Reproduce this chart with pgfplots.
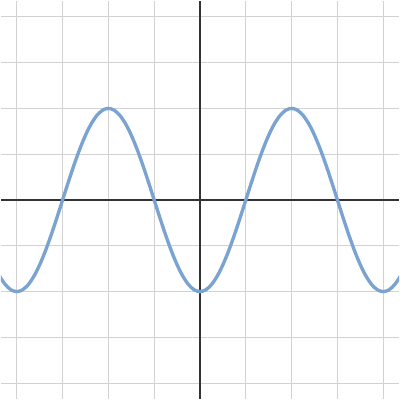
\documentclass[border=0pt]{standalone}
\usepackage{pgfplots}
\pgfplotsset{compat=1.18}
\definecolor{curveblue}{HTML}{7BA3D2}
\begin{document}
\begin{tikzpicture}
\begin{axis}[
    scale only axis,
    width=10cm, height=10cm,
    xmin=-4.348, xmax=4.348,
    ymin=-4.348, ymax=4.348,
    axis lines=middle,
    axis line style={-, black!80, line width=1.2pt},
    xtick={-4,...,4}, ytick={-4,...,4},
    xticklabels={}, yticklabels={},
    major tick length=0pt,
    grid=major,
    grid style={gray!35, line width=0.9pt},
]
\addplot[curveblue, line width=2.4pt, smooth]
    table {
x y
-4.5 -1.4142
-4.375 -1.6629
-4.25 -1.8478
-4.125 -1.9616
-4 -2
-3.875 -1.9616
-3.75 -1.8478
-3.625 -1.6629
-3.5 -1.4142
-3.375 -1.1111
-3.25 -0.7654
-3.125 -0.3902
-3 0
-2.875 0.3902
-2.75 0.7654
-2.625 1.1111
-2.5 1.4142
-2.375 1.6629
-2.25 1.8478
-2.125 1.9616
-2 2
-1.875 1.9616
-1.75 1.8478
-1.625 1.6629
-1.5 1.4142
-1.375 1.1111
-1.25 0.7654
-1.125 0.3902
-1 0
-0.875 -0.3902
-0.75 -0.7654
-0.625 -1.1111
-0.5 -1.4142
-0.375 -1.6629
-0.25 -1.8478
-0.125 -1.9616
0 -2
0.125 -1.9616
0.25 -1.8478
0.375 -1.6629
0.5 -1.4142
0.625 -1.1111
0.75 -0.7654
0.875 -0.3902
1 0
1.125 0.3902
1.25 0.7654
1.375 1.1111
1.5 1.4142
1.625 1.6629
1.75 1.8478
1.875 1.9616
2 2
2.125 1.9616
2.25 1.8478
2.375 1.6629
2.5 1.4142
2.625 1.1111
2.75 0.7654
2.875 0.3902
3 0
3.125 -0.3902
3.25 -0.7654
3.375 -1.1111
3.5 -1.4142
3.625 -1.6629
3.75 -1.8478
3.875 -1.9616
4 -2
4.125 -1.9616
4.25 -1.8478
4.375 -1.6629
4.5 -1.4142
};
\end{axis}
\end{tikzpicture}
\end{document}
